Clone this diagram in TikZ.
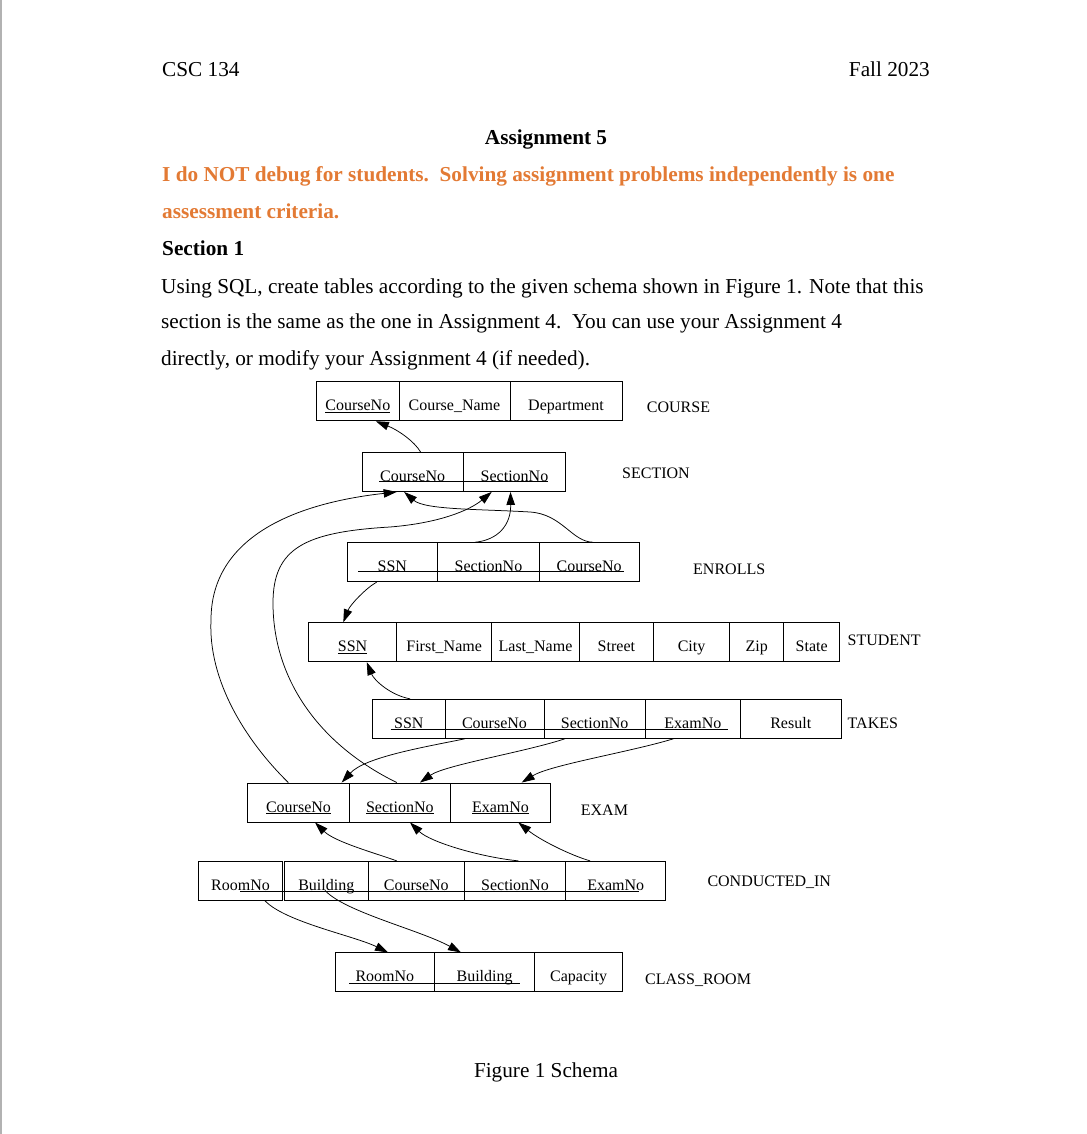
\documentclass[tikz,border=0pt]{standalone}
\usepackage{fontspec}
\setmainfont{Liberation Serif}
\usetikzlibrary{arrows.meta,calc}
\definecolor{warnorange}{RGB}{227,122,52}
\newcommand\dfont{\fontsize{16}{19}\selectfont}
\newcommand\bodyfont{\fontsize{21.25}{25}\selectfont}
\newcommand\cellat[5]{\node[cell, minimum width={(#3)-(#2)}] (#1) at ({((#2)+(#3))/2},#4) {#5};}
\begin{document}
\begin{tikzpicture}[x=1pt,y=-1pt,
  cell/.style={draw, line width=0.9pt, inner sep=0pt, minimum height=39pt,
    text height=20pt, text depth=1pt, font=\dfont, anchor=center},
  lbl/.style={anchor=base west, font=\dfont, inner sep=0pt},
  txt/.style={anchor=base west, font=\bodyfont, inner sep=0pt},
  uline/.style={line width=0.8pt},
  fk/.style={line width=0.75pt, -{Triangle[length=13pt,width=8.5pt]}}]
\useasboundingbox (0,0) rectangle (1086,1134);
\fill[white] (0,0) rectangle (1086,1134);
\draw[black!30, line width=2pt] (1,0) -- (1,1134);

% header
\node[txt] (hdrL) at (162,76.7) {CSC 134};
\node[txt, anchor=base east] (hdrR) at (930,76.7) {Fall 2023};
\node[txt, anchor=base, font=\bodyfont\bfseries] (title) at (546,144.7) {Assignment 5};
\node[txt, font=\bodyfont\bfseries, text=warnorange] (warn1) at (162,181.7)
  {I do NOT debug for students.\ \ Solving assignment problems independently is one};
\node[txt, font=\bodyfont\bfseries, text=warnorange] (warn2) at (162,218) {assessment criteria.};
\node[txt, font=\bodyfont\bfseries] (sec) at (162,255) {Section 1};
\node[txt] (body1) at (161,293) {Using SQL, create tables according to the given schema shown in Figure 1. Note that this};
\node[txt] (body2) at (161,328.3) {section is the same as the one in Assignment 4.\ \ You can use your Assignment 4};
\node[txt] (body3) at (161,365) {directly, or modify your Assignment 4 (if needed).};
\node[txt, anchor=base] (caption) at (546,1077) {Figure 1 Schema};

% COURSE
\cellat{cCN}{316.7}{399}{401.3}{\underline{CourseNo}}
\cellat{cCName}{399}{510}{401.3}{Course\_Name}
\cellat{cDept}{510}{622}{401.3}{Department}
\node[lbl] (lCourse) at (646.7,412.3) {COURSE};

% SECTION
\cellat{sCN}{362}{463.3}{472}{CourseNo}
\cellat{sSN}{463.3}{565.7}{472}{SectionNo}
\draw[uline] (379,481.7) -- (548,481.7);
\node[lbl] (lSection) at (622,478) {SECTION};

% ENROLLS
\cellat{eSSN}{347}{437.7}{562.2}{SSN}
\cellat{eSec}{437.7}{539.3}{562.2}{SectionNo}
\cellat{eCN}{539.3}{639}{562.2}{CourseNo}
\draw[uline] (358,571) -- (624,571);
\node[lbl] (lEnrolls) at (693,574) {ENROLLS};

% STUDENT
\cellat{stSSN}{308.3}{396.8}{642.2}{\underline{SSN}}
\cellat{stFN}{396.8}{491.5}{642.2}{First\_Name}
\cellat{stLN}{491.5}{579.5}{642.2}{Last\_Name}
\cellat{stStreet}{579.5}{653.3}{642.2}{Street}
\cellat{stCity}{653.3}{729.8}{642.2}{City}
\cellat{stZip}{729.8}{783.8}{642.2}{Zip}
\cellat{stState}{783.8}{839.5}{642.2}{State}
\node[lbl] (lStudent) at (847.5,645.5) {STUDENT};

% TAKES
\cellat{tSSN}{372.7}{445}{718.8}{SSN}
\cellat{tCN}{445}{544}{718.8}{CourseNo}
\cellat{tSec}{544}{645.3}{718.8}{SectionNo}
\cellat{tEx}{645.3}{740.5}{718.8}{ExamNo}
\cellat{tRes}{740.5}{841}{718.8}{Result}
\draw[uline] (390.7,729.3) -- (727.7,729.3);
\node[lbl] (lTakes) at (847.5,728.3) {TAKES};

% EXAM
\cellat{xCN}{247.7}{349.3}{802.5}{\underline{CourseNo}}
\cellat{xSec}{349.3}{450.3}{802.5}{\underline{SectionNo}}
\cellat{xEx}{450.3}{550.7}{802.5}{\underline{ExamNo}}
\node[lbl] (lExam) at (580.7,815) {EXAM};

% CONDUCTED_IN
\cellat{kRoom}{198.3}{282.7}{880.8}{RoomNo}
\cellat{kBld}{284.3}{368.3}{880.8}{Building}
\cellat{kCN}{368.3}{464.3}{880.8}{CourseNo}
\cellat{kSec}{464.3}{565.7}{880.8}{SectionNo}
\cellat{kEx}{565.7}{665.7}{880.8}{ExamNo}
\draw[uline] (240,891.7) -- (639,891.7);
\node[lbl] (lCond) at (707.3,886) {CONDUCTED\_IN};

% CLASS_ROOM
\cellat{rRoom}{335.2}{434.5}{972.4}{RoomNo}
\cellat{rBld}{434.5}{534.7}{972.4}{Building}
\cellat{rCap}{534.7}{622.5}{972.4}{Capacity}
\draw[uline] (349,983.3) -- (519.6,983.3);
\node[lbl] (lClass) at (645,984.3) {CLASS\_ROOM};

% foreign keys
\draw[fk] ($(sCN.north)+(8,0)$) .. controls (414,441) and (398,430) .. ($(cCN.south)+(18,0)$);
\draw[fk] ($(eSSN.south)+(-15.7,0)$) .. controls (366,588) and (350,605) .. ($(stSSN.north)+(-9.2,0)$);
\draw[fk] ($(eSec.north)+(-13.5,0)$) .. controls (498,540) and (511,525) .. ($(sSN.south)+(-4,0)$);
\draw[fk] ($(eCN.north)+(4,0)$) .. controls (572,542) and (562,514) .. (530,512)
  .. controls (480,509) and (425,510) .. ($(sCN.south)+(-8.5,0)$);
\draw[fk] ($(xCN.north)+(-10.2,0)$) .. controls (245,740) and (208,680) .. (211,620)
  .. controls (211,545) and (280,505) .. ($(sCN.south)+(-16,0)$);
\draw[fk] ($(xSec.north)+(-3,0)$) .. controls (320,745) and (273,680) .. (273,603)
  .. controls (273,548) and (305,532) .. (390,527)
  .. controls (440,523) and (470,510) .. ($(sSN.south)+(-22.8,0)$);
\draw[fk] ($(tSSN.north)+(1.2,0)$) .. controls (390,695) and (374,680) .. ($(stSSN.south)+(14.2,0)$);
\draw[fk] ($(tCN.south)+(-29.5,0)$) .. controls (425,747) and (365,757) .. ($(xCN.north)+(43.2,0)$);
\draw[fk] ($(tSec.south)+(-29.65,0)$) .. controls (525,752) and (445,765) .. ($(xSec.north)+(20.2,0)$);
\draw[fk] ($(tEx.south)+(-19.35,0)$) .. controls (630,752) and (550,765) .. ($(xEx.north)+(21.2,0)$);
\draw[fk] ($(kCN.north)+(-19.6,0)$) .. controls (375,853) and (335,842) .. ($(xCN.south)+(16.5,0)$);
\draw[fk] ($(kSec.north)+(3.3,0)$) .. controls (480,857) and (430,842) .. ($(xSec.south)+(10.2,0)$);
\draw[fk] ($(kEx.north)+(-25.7,0)$) .. controls (570,855) and (540,840) .. ($(xEx.south)+(17.8,0)$);
\draw[fk] ($(kRoom.south)+(24.5,0)$) .. controls (285,922) and (355,936) .. ($(rRoom.north)+(3.15,0)$);
\draw[fk] ($(kBld.south)+(-1.3,-10.3)$) .. controls (345,912) and (420,930) .. ($(rBld.north)+(-23.6,0)$);
\end{tikzpicture}
\end{document}
